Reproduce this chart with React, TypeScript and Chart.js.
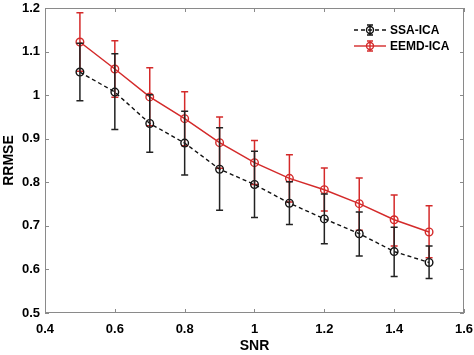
import React, { useEffect, useRef } from "react";
import { Chart, registerables } from "chart.js";

Chart.register(...registerables);

const snr = [0.5, 0.6, 0.7, 0.8, 0.9, 1.0, 1.1, 1.2, 1.3, 1.4, 1.5];
const ssaMean = [1.053, 1.007, 0.935, 0.89, 0.83, 0.795, 0.752, 0.716, 0.682, 0.641, 0.616];
const ssaLow = [0.987, 0.921, 0.869, 0.817, 0.736, 0.719, 0.703, 0.659, 0.631, 0.584, 0.579];
const ssaHigh = [1.119, 1.095, 1.001, 0.963, 0.925, 0.871, 0.801, 0.773, 0.732, 0.697, 0.654];
const eemdMean = [1.122, 1.06, 0.996, 0.946, 0.891, 0.845, 0.809, 0.783, 0.751, 0.714, 0.686];
const eemdLow = [1.055, 0.995, 0.93, 0.884, 0.832, 0.795, 0.755, 0.734, 0.69, 0.654, 0.627];
const eemdHigh = [1.189, 1.125, 1.063, 1.008, 0.95, 0.896, 0.863, 0.833, 0.81, 0.771, 0.746];
const xTicks = [0.4, 0.6, 0.8, 1.0, 1.2, 1.4, 1.6];
const yTicks = [0.5, 0.6, 0.7, 0.8, 0.9, 1.0, 1.1, 1.2];
const seriesNames = ["SSA-ICA", "EEMD-ICA"];

const BLACK = "#111111";
const RED = "#d42a2a";
const FONT = "'Liberation Sans', Arial, sans-serif";

const errLow = [ssaLow, eemdLow];
const errHigh = [ssaHigh, eemdHigh];
const errColors = ["#222222", RED];

const fmt = (v: number) => String(Number(v.toFixed(2)));

const errorBarPlugin = {
  id: "errorBars",
  afterDatasetDraw(chart: any, args: any) {
    const i = args.index;
    const ctx = chart.ctx;
    const xs = chart.scales.x;
    const ys = chart.scales.y;
    ctx.save();
    ctx.strokeStyle = errColors[i];
    ctx.lineWidth = 1.5;
    ctx.setLineDash([]);
    snr.forEach((x, k) => {
      const px = xs.getPixelForValue(x);
      const pl = ys.getPixelForValue(errLow[i][k]);
      const ph = ys.getPixelForValue(errHigh[i][k]);
      ctx.beginPath();
      ctx.moveTo(px, pl);
      ctx.lineTo(px, ph);
      ctx.moveTo(px - 3.5, pl);
      ctx.lineTo(px + 3.5, pl);
      ctx.moveTo(px - 3.5, ph);
      ctx.lineTo(px + 3.5, ph);
      ctx.stroke();
    });
    ctx.restore();
  },
};

const framePlugin = {
  id: "frame",
  afterDraw(chart: any) {
    const ctx = chart.ctx;
    const { left, right, top, bottom } = chart.chartArea;
    const xs = chart.scales.x;
    const ys = chart.scales.y;
    ctx.save();
    ctx.strokeStyle = "#8a8a8a";
    ctx.lineWidth = 1;
    ctx.setLineDash([]);
    ctx.strokeRect(left + 0.5, top + 0.5, right - left - 1, bottom - top - 1);
    ctx.beginPath();
    const tl = 4;
    xTicks.forEach((v) => {
      const p = Math.round(xs.getPixelForValue(v)) + 0.5;
      ctx.moveTo(p, bottom);
      ctx.lineTo(p, bottom - tl);
      ctx.moveTo(p, top);
      ctx.lineTo(p, top + tl);
    });
    yTicks.forEach((v) => {
      const p = Math.round(ys.getPixelForValue(v)) + 0.5;
      ctx.moveTo(left, p);
      ctx.lineTo(left + tl, p);
      ctx.moveTo(right, p);
      ctx.lineTo(right - tl, p);
    });
    ctx.stroke();

    // legend
    const items = [
      { color: BLACK, dash: [4, 3], y: 30 },
      { color: RED, dash: [], y: 46 },
    ];
    items.forEach((it, i) => {
      ctx.strokeStyle = it.color;
      ctx.lineWidth = 1.4;
      ctx.setLineDash(it.dash);
      ctx.beginPath();
      ctx.moveTo(354, it.y);
      ctx.lineTo(386, it.y);
      ctx.stroke();
      ctx.setLineDash([]);
      ctx.beginPath();
      ctx.moveTo(370, it.y - 5);
      ctx.lineTo(370, it.y + 5);
      ctx.moveTo(367, it.y - 5);
      ctx.lineTo(373, it.y - 5);
      ctx.moveTo(367, it.y + 5);
      ctx.lineTo(373, it.y + 5);
      ctx.stroke();
      ctx.beginPath();
      ctx.arc(370, it.y, 3.5, 0, Math.PI * 2);
      ctx.stroke();
      ctx.fillStyle = "#000";
      ctx.font = `bold 12px ${FONT}`;
      ctx.textBaseline = "middle";
      ctx.textAlign = "left";
      ctx.fillText(seriesNames[i], 390, it.y + 1);
    });
    ctx.restore();
  },
};

export default function App() {
  const ref = useRef<HTMLCanvasElement | null>(null);
  useEffect(() => {
    if (!ref.current) return;
    const chart = new Chart(ref.current, {
      type: "line",
      data: {
        datasets: [
          {
            label: seriesNames[0],
            data: snr.map((x, i) => ({ x, y: ssaMean[i] })),
            borderColor: BLACK,
            borderWidth: 1.4,
            borderDash: [4, 3],
            pointRadius: 3.8,
            pointBorderWidth: 1.4,
            pointBorderColor: BLACK,
            pointBackgroundColor: "rgba(0,0,0,0)",
            fill: false,
          },
          {
            label: seriesNames[1],
            data: snr.map((x, i) => ({ x, y: eemdMean[i] })),
            borderColor: RED,
            borderWidth: 1.5,
            pointRadius: 3.8,
            pointBorderWidth: 1.4,
            pointBorderColor: RED,
            pointBackgroundColor: "rgba(0,0,0,0)",
            fill: false,
          },
        ],
      },
      options: {
        responsive: false,
        animation: false,
        layout: { padding: { top: 8, right: 10, left: 0, bottom: 0 } },
        plugins: { legend: { display: false }, tooltip: { enabled: false } },
        scales: {
          x: {
            type: "linear",
            min: 0.4,
            max: 1.6,
            grid: { display: false, drawTicks: false },
            border: { display: false },
            afterBuildTicks: (s: any) => {
              s.ticks = xTicks.map((v) => ({ value: v }));
            },
            afterFit: (s: any) => {
              s.height = 42;
              s.paddingLeft = 0;
              s.paddingRight = 0;
            },
            ticks: {
              color: "#000",
              font: { family: FONT, size: 13, weight: "bold" },
              padding: 9,
              maxRotation: 0,
              callback: (v: any) => fmt(Number(v)),
            },
            title: {
              display: true,
              text: "SNR",
              color: "#000",
              font: { family: FONT, size: 14, weight: "bold" },
              padding: { top: 0, bottom: 0 },
            },
          },
          y: {
            type: "linear",
            min: 0.5,
            max: 1.2,
            grid: { display: false, drawTicks: false },
            border: { display: false },
            afterBuildTicks: (s: any) => {
              s.ticks = yTicks.map((v) => ({ value: v }));
            },
            afterFit: (s: any) => {
              s.width = 45;
              s.paddingTop = 0;
              s.paddingBottom = 0;
            },
            ticks: {
              color: "#000",
              font: { family: FONT, size: 13, weight: "bold" },
              padding: 5,
              callback: (v: any) => fmt(Number(v)),
            },
            title: {
              display: true,
              text: "RRMSE",
              color: "#000",
              font: { family: FONT, size: 14, weight: "bold" },
              padding: { top: 1, bottom: 0 },
            },
          },
        },
      },
      plugins: [errorBarPlugin, framePlugin],
    } as any);
    return () => chart.destroy();
  }, []);
  return (
    <div style={{ position: "absolute", left: 0, top: 0 }}>
      <canvas ref={ref} width={474} height={355} style={{ display: "block" }} />
    </div>
  );
}
